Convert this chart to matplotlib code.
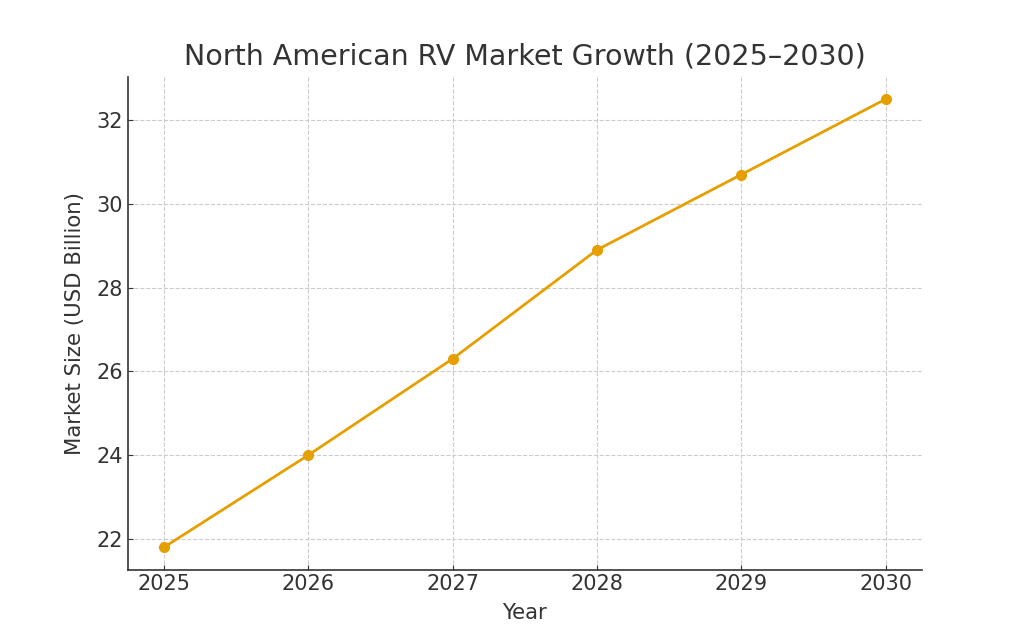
import matplotlib
matplotlib.use('Agg')
import matplotlib.pyplot as plt

# данные рынка
years = [2025, 2026, 2027, 2028, 2029, 2030]
market_size = [21.8, 24.0, 26.3, 28.9, 30.7, 32.5]

text_color = '#333333'

fig, ax = plt.subplots(figsize=(10.24, 6.4), dpi=100)
ax.plot(years, market_size, marker='o', color='#E69F00', linewidth=2, markersize=7)

ax.set_title('North American RV Market Growth (2025–2030)', fontsize=20.5, color=text_color, pad=9)
ax.set_xlabel('Year', fontsize=15.3, color=text_color, labelpad=6)
ax.set_ylabel('Market Size (USD Billion)', fontsize=15.3, color=text_color, labelpad=8)
ax.set_xticks(years)
ax.tick_params(direction='in', labelsize=15, labelcolor=text_color, color=text_color)
ax.grid(True, linestyle='--', color='#cccccc', linewidth=0.8)
ax.spines['top'].set_visible(False)
ax.spines['right'].set_visible(False)
for s in ['left', 'bottom']:
    ax.spines[s].set_color(text_color)
    ax.spines[s].set_linewidth(1.2)

plt.savefig('out.png', dpi=100)
